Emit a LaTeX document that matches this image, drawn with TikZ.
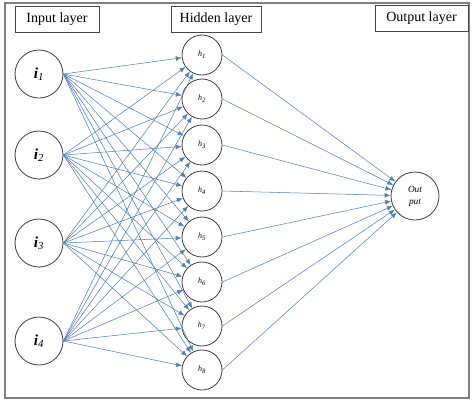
\documentclass[tikz,border=0pt]{standalone}
\usepackage{fontspec}
\setmainfont{Liberation Serif}
\usetikzlibrary{arrows.meta}

\tikzset{
  unit/.style={draw={rgb, 255:red, 60; green, 60; blue, 60}, circle, line width=0.6, inner sep=0pt},
  inunit/.style={unit, minimum size=36pt},
  hidunit/.style={unit, minimum size=30pt},
  layerbox/.style={draw={rgb, 255:red, 70; green, 70; blue, 70}, line width=0.6, inner sep=0pt, minimum height=19.5pt, font=\fontsize{10.5}{12}\selectfont},
  wire/.style={color={rgb, 255:red, 79; green, 129; blue, 189}, line width=0.4, -{Latex[length=4.5pt,width=3.6pt]}},
}

\begin{document}
\begin{tikzpicture}[x=0.75pt,y=0.75pt,yscale=-1,xscale=1]
\useasboundingbox (0,0) rectangle (474,405);

%Shape: Rectangle [outer frame]
\draw [color={rgb, 255:red, 128; green, 128; blue, 128}, line width=1.1] (5,3) rectangle (469,398);

% Text Node
\node [layerbox, minimum width=63pt] (inlayer) at (57,19) {Input layer};
\node [layerbox, minimum width=67.5pt] (hidlayer) at (216,19) {Hidden layer};
\node [layerbox, minimum width=69.75pt] (outlayer) at (421.5,18.5) {Output layer};

%Shape: Circle [input units]
\node [inunit] (i1) at (39,74) {\fontsize{11.5}{12}\selectfont\textbf{\textit{i}}\textsubscript{\textit{1}}};
\node [inunit] (i2) at (39,155) {\fontsize{11.5}{12}\selectfont\textbf{\textit{i}}\textsubscript{\textit{2}}};
\node [inunit] (i3) at (39,243) {\fontsize{11.5}{12}\selectfont\textbf{\textit{i}}\textsubscript{\textit{3}}};
\node [inunit] (i4) at (39,341) {\fontsize{11.5}{12}\selectfont\textbf{\textit{i}}\textsubscript{\textit{4}}};

%Shape: Circle [hidden units]
\node [hidunit] (h1) at (202,55) {\fontsize{6}{6}\selectfont\textit{h}\textsubscript{\textit{1}}};
\node [hidunit] (h2) at (202,99) {\fontsize{6}{6}\selectfont\textit{h}\textsubscript{\textit{2}}};
\node [hidunit] (h3) at (202,145) {\fontsize{6}{6}\selectfont\textit{h}\textsubscript{\textit{3}}};
\node [hidunit] (h4) at (202,191) {\fontsize{6}{6}\selectfont\textit{h}\textsubscript{\textit{4}}};
\node [hidunit] (h5) at (202,237) {\fontsize{6}{6}\selectfont\textit{h}\textsubscript{\textit{5}}};
\node [hidunit] (h6) at (202,282) {\fontsize{6}{6}\selectfont\textit{h}\textsubscript{\textit{6}}};
\node [hidunit] (h7) at (202,326) {\fontsize{6}{6}\selectfont\textit{h}\textsubscript{\textit{7}}};
\node [hidunit] (h8) at (202,370) {\fontsize{6}{6}\selectfont\textit{h}\textsubscript{\textit{8}}};

%Shape: Circle [output unit]
\node [inunit, align=center, font=\fontsize{7}{9}\selectfont\itshape] (out) at (415,196) {Out\\put};

%Straight Lines [input to hidden]
\draw [wire] (i1.east) -- (h1);
\draw [wire] (i1.east) -- (h2);
\draw [wire] (i1.east) -- (h3);
\draw [wire] (i1.east) -- (h4);
\draw [wire] (i1.east) -- (h5);
\draw [wire] (i1.east) -- (h6);
\draw [wire] (i1.east) -- (h7);
\draw [wire] (i1.east) -- (h8);
\draw [wire] (i2.east) -- (h1);
\draw [wire] (i2.east) -- (h2);
\draw [wire] (i2.east) -- (h3);
\draw [wire] (i2.east) -- (h4);
\draw [wire] (i2.east) -- (h5);
\draw [wire] (i2.east) -- (h6);
\draw [wire] (i2.east) -- (h7);
\draw [wire] (i2.east) -- (h8);
\draw [wire] (i3.east) -- (h1);
\draw [wire] (i3.east) -- (h2);
\draw [wire] (i3.east) -- (h3);
\draw [wire] (i3.east) -- (h4);
\draw [wire] (i3.east) -- (h5);
\draw [wire] (i3.east) -- (h6);
\draw [wire] (i3.east) -- (h7);
\draw [wire] (i3.east) -- (h8);
\draw [wire] (i4.east) -- (h1);
\draw [wire] (i4.east) -- (h2);
\draw [wire] (i4.east) -- (h3);
\draw [wire] (i4.east) -- (h4);
\draw [wire] (i4.east) -- (h5);
\draw [wire] (i4.east) -- (h6);
\draw [wire] (i4.east) -- (h7);
\draw [wire] (i4.east) -- (h8);

%Straight Lines [hidden to output]
\draw [wire] (h1.east) -- (out);
\draw [wire] (h2.east) -- (out);
\draw [wire] (h3.east) -- (out);
\draw [wire] (h4.east) -- (out);
\draw [wire] (h5.east) -- (out);
\draw [wire] (h6.east) -- (out);
\draw [wire] (h7.east) -- (out);
\draw [wire] (h8.east) -- (out);

\end{tikzpicture}
\end{document}
